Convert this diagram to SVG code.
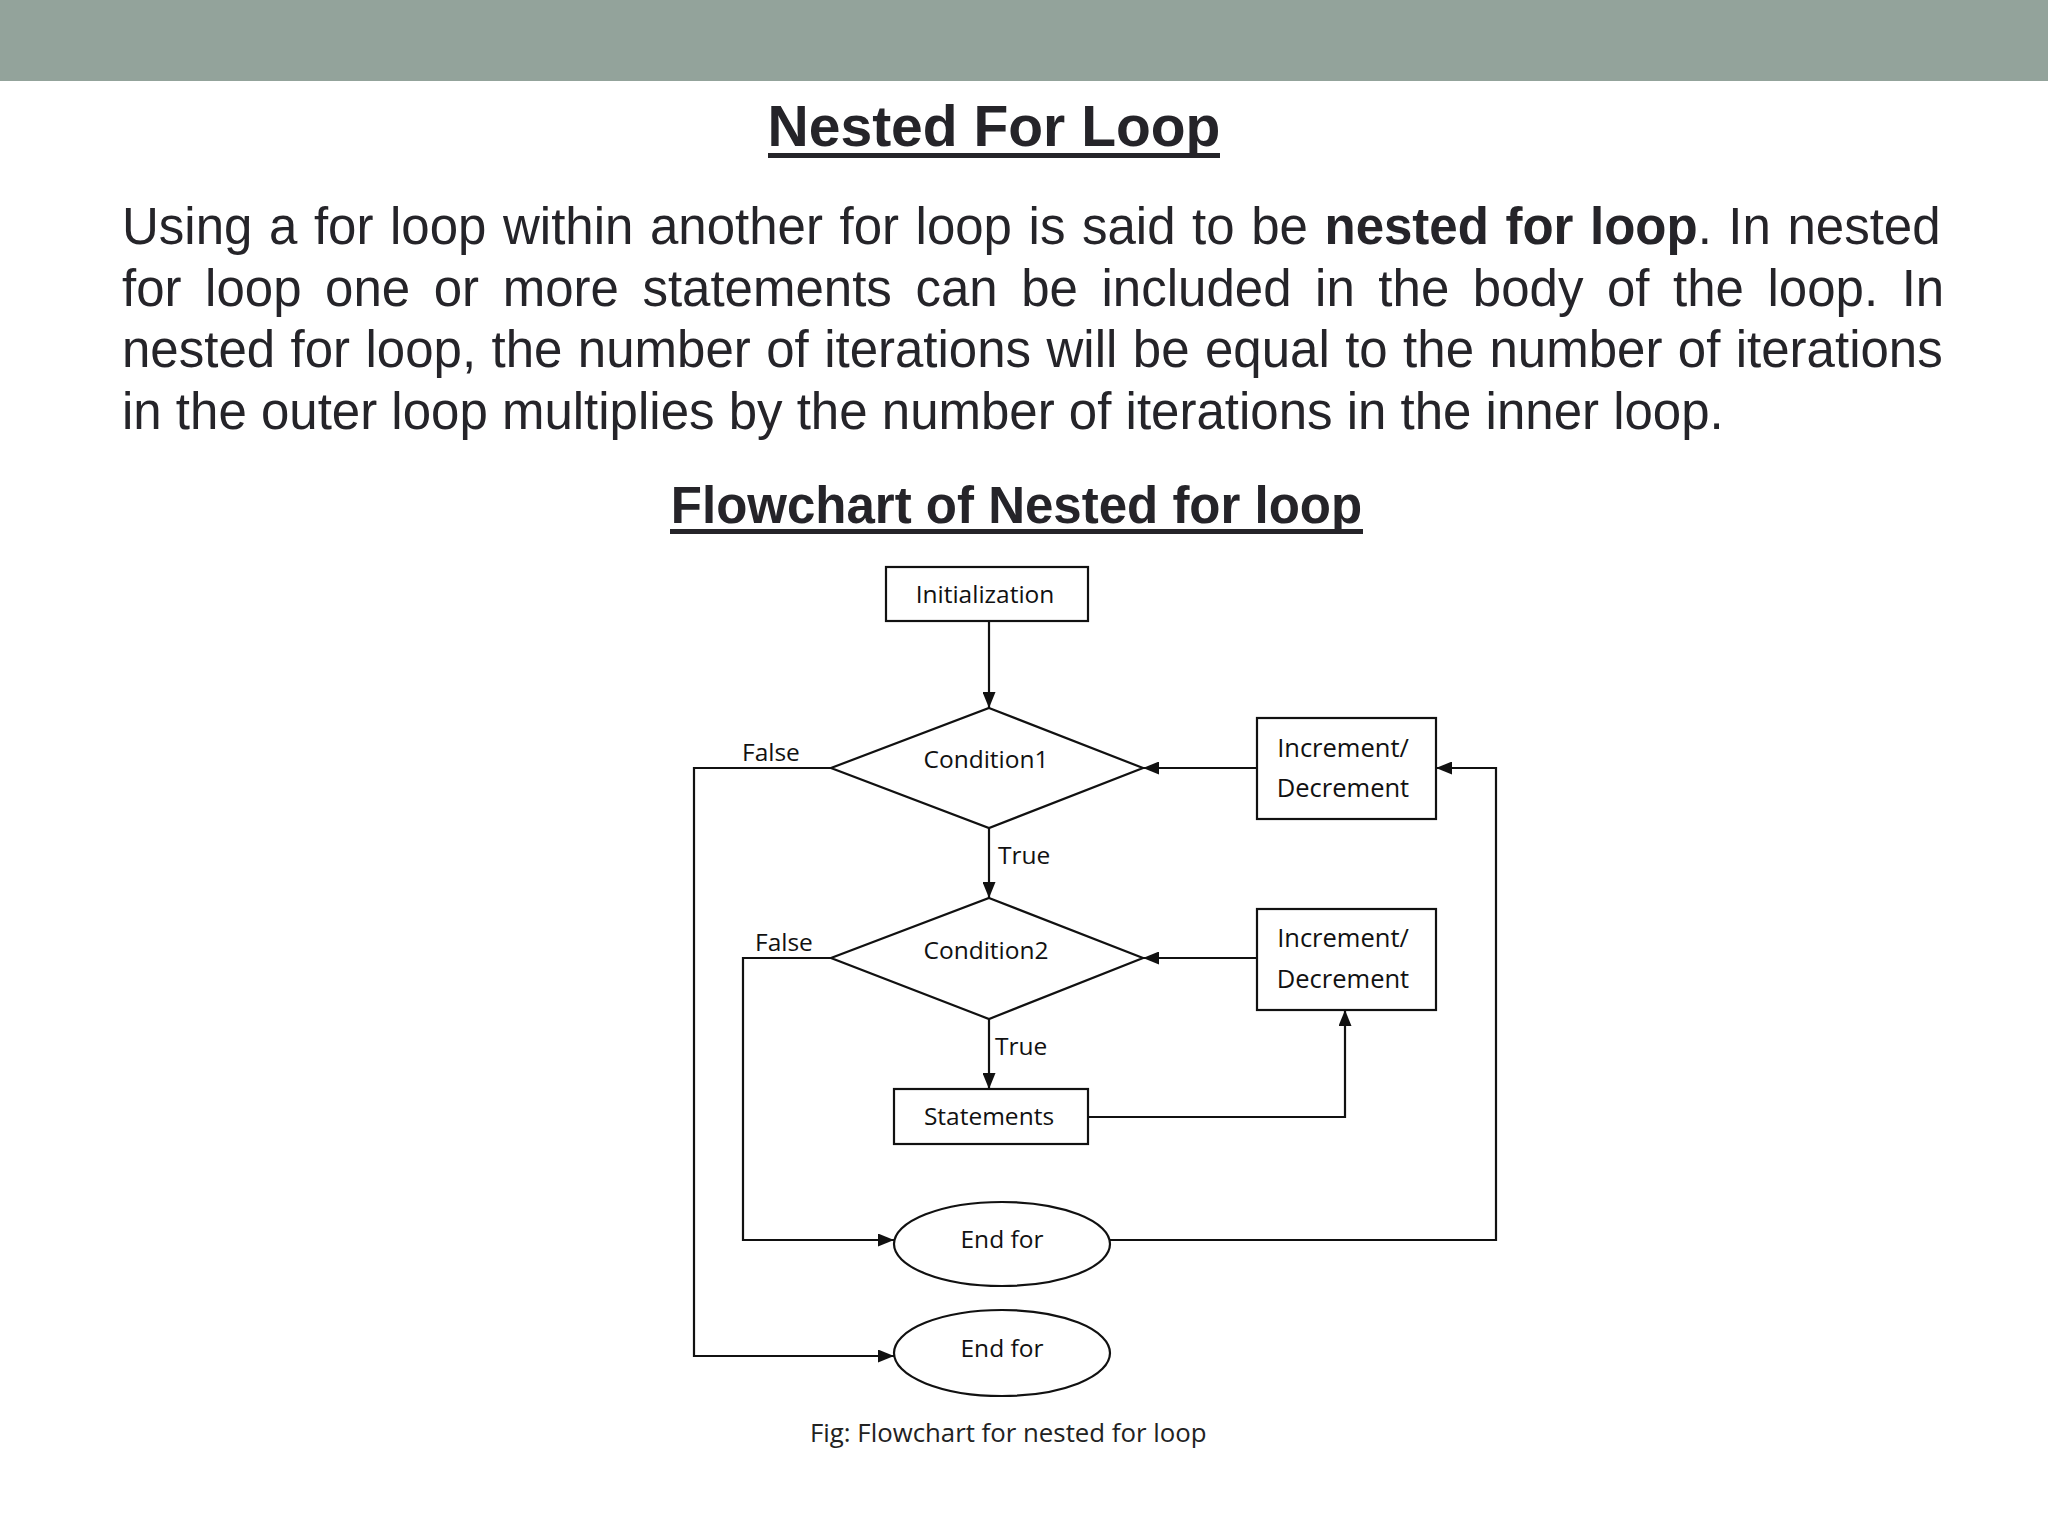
<svg xmlns="http://www.w3.org/2000/svg" width="2048" height="1536" viewBox="0 0 2048 1536">
<style>
.hd{font-family:"Liberation Sans",Arial,sans-serif;font-weight:bold;fill:#252429}
.para{font-family:"Liberation Sans",Arial,sans-serif;font-size:51px;fill:#252429}
.lbl{font-family:"Open Sans","Noto Sans",sans-serif;font-size:24.5px;fill:#111}
.lbl2{font-family:"Open Sans","Noto Sans",sans-serif;font-size:25.5px;fill:#111}
.cap{font-family:"Open Sans","Noto Sans",sans-serif;font-size:25.8px;fill:#222}
.shape{fill:#fff;stroke:#111;stroke-width:2.2}
.conn{fill:none;stroke:#111;stroke-width:2.2}
</style>
<defs>
<marker id="arr" markerUnits="userSpaceOnUse" markerWidth="16" markerHeight="13" refX="16" refY="6.5" orient="auto">
<path d="M0,0 L16,6.5 L0,13 z" fill="#111"/>
</marker>
</defs>
<rect x="0" y="0" width="2048" height="1536" fill="#fff"/>
<rect x="0" y="0" width="2048" height="81" fill="#93a39b"/>

<g id="title">
<text class="hd" x="994" y="146" font-size="57" text-anchor="middle">Nested For Loop</text>
<rect x="768" y="153" width="452" height="5" fill="#252429"/>
</g>

<g id="paragraph">
<text class="para" x="122" y="244" word-spacing="2.4">Using a for loop within another for loop is said to be <tspan font-weight="bold">nested for loop</tspan>. In nested</text>
<text class="para" x="122" y="305.5" word-spacing="9.4">for loop one or more statements can be included in the body of the loop. In</text>
<text class="para" x="122" y="367" word-spacing="1.26">nested for loop, the number of iterations will be equal to the number of iterations</text>
<text class="para" x="122" y="428.5">in the outer loop multiplies by the number of iterations in the inner loop.</text>
</g>

<g id="flowchart-title">
<text class="hd" x="1016.5" y="523" font-size="51" text-anchor="middle">Flowchart of Nested for loop</text>
<rect x="670" y="529" width="693" height="5" fill="#252429"/>
</g>

<g id="connectors">
<path class="conn" d="M989,621 V708" marker-end="url(#arr)"/>
<path class="conn" d="M989,828 V898" marker-end="url(#arr)"/>
<path class="conn" d="M989,1019 V1089" marker-end="url(#arr)"/>
<path class="conn" d="M1257,768 H1143" marker-end="url(#arr)"/>
<path class="conn" d="M1257,958 H1143" marker-end="url(#arr)"/>
<path class="conn" d="M1088,1117 H1345 V1010" marker-end="url(#arr)"/>
<path class="conn" d="M1110,1240 H1496 V768 H1436" marker-end="url(#arr)"/>
<path class="conn" d="M831,768 H694 V1356 H894" marker-end="url(#arr)"/>
<path class="conn" d="M831,958 H743 V1240 H894" marker-end="url(#arr)"/>
<text class="lbl" x="742" y="761">False</text>
<text class="lbl" x="755" y="951">False</text>
<text class="lbl" x="998" y="864">True</text>
<text class="lbl" x="995" y="1055">True</text>
</g>

<g id="init">
<rect class="shape" x="886" y="567" width="202" height="54"/>
<text class="lbl" x="985" y="603" text-anchor="middle">Initialization</text>
</g>

<g id="condition1">
<polygon class="shape" points="989,708 1143,768 989,828 831,768"/>
<text class="lbl" x="986" y="768" text-anchor="middle">Condition1</text>
</g>

<g id="incdec1">
<rect class="shape" x="1257" y="718" width="179" height="101"/>
<text class="lbl2" x="1343" y="757" text-anchor="middle">Increment/</text>
<text class="lbl2" x="1343" y="797" text-anchor="middle">Decrement</text>
</g>

<g id="condition2">
<polygon class="shape" points="989,898 1143,958 989,1019 831,958"/>
<text class="lbl" x="986" y="959" text-anchor="middle">Condition2</text>
</g>

<g id="incdec2">
<rect class="shape" x="1257" y="909" width="179" height="101"/>
<text class="lbl2" x="1343" y="947" text-anchor="middle">Increment/</text>
<text class="lbl2" x="1343" y="988" text-anchor="middle">Decrement</text>
</g>

<g id="statements">
<rect class="shape" x="894" y="1089" width="194" height="55"/>
<text class="lbl" x="989" y="1125" text-anchor="middle">Statements</text>
</g>

<g id="endfor1">
<ellipse class="shape" cx="1002" cy="1244" rx="108" ry="42"/>
<text class="lbl" x="1002" y="1248" text-anchor="middle">End for</text>
</g>

<g id="endfor2">
<ellipse class="shape" cx="1002" cy="1353" rx="108" ry="43"/>
<text class="lbl" x="1002" y="1357" text-anchor="middle">End for</text>
</g>

<g id="caption">
<text class="cap" x="810" y="1442">Fig: Flowchart for nested for loop</text>
</g>
</svg>
